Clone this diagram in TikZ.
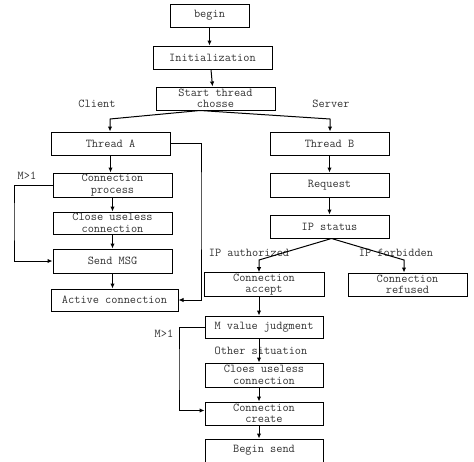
\documentclass[tikz,border=0pt]{standalone}
\usepackage{fontspec}
\usetikzlibrary{arrows.meta,calc}
\begin{document}
\begin{tikzpicture}[x=1pt,y=-1pt,
  box/.style={draw=black,line width=1pt,minimum width=119pt,minimum height=23pt,inner sep=1pt,align=center,font=\fontsize{12}{11.5}\selectfont\ttfamily,text=black!80},
  lbl/.style={font=\fontsize{12}{12}\selectfont\ttfamily,text=black!80,inner sep=0pt},
  arr/.style={line width=1pt,-{Latex[length=5pt,width=4.5pt]}}]
\useasboundingbox (0,0) rectangle (474,461);
% nodes
\node[box,minimum width=79pt] (begin) at (209.5,15.5) {begin};
\node[box] (init) at (212.5,57.5) {Initialization};
\node[box] (start) at (215.5,98.5) {Start thread\\chosse};
\node[box] (ta) at (110.5,143.5) {Thread A};
\node[box] (tb) at (329.5,143.5) {Thread B};
\node[box,minimum height=24pt] (cp) at (112.5,185) {Connection\\process};
\node[box,minimum height=22pt] (cu) at (112.5,223) {Close useless\\connection};
\node[box,minimum height=24pt] (send) at (112.5,261) {Send MSG};
\node[box,minimum width=127pt,minimum height=22pt] (act) at (114.5,300) {Active connection};
\node[box,minimum height=24pt] (req) at (329.5,185) {Request};
\node[box] (ip) at (329.5,226.5) {IP status};
\node[box,minimum width=120pt] (acc) at (264,284.5) {Connection\\accept};
\node[box] (ref) at (407.5,284.5) {Connection\\refused};
\node[box,minimum width=118pt,minimum height=22pt] (mv) at (264,327) {M value judgment};
\node[box,minimum width=118pt,minimum height=24pt] (cl) at (264,375) {Cloes useless\\connection};
\node[box,minimum width=118pt] (cc) at (264,413.5) {Connection\\create};
\node[box,minimum width=118pt] (bs) at (264,450.5) {Begin send};
% labels
\node[lbl] (client) at (97,104) {Client};
\node[lbl] (server) at (331,104) {Server};
\node[lbl] (m1) at (27,176) {M>1};
\node[lbl] (m2) at (164,334) {M>1};
\node[lbl] (ipa) at (249,253) {IP authorized};
\node[lbl] (ipf) at (396,253) {IP forbidden};
\node[lbl] (oth) at (261,351) {Other situation};
% coordinates
\coordinate (fl1) at (110,119);
\coordinate (fr1) at (330,119);
\coordinate (tr) at (201,200);
\coordinate (lp1) at (14,220);
\coordinate (fl2) at (259,260);
\coordinate (fr2) at (404,260);
\coordinate (lp2) at (179,370);
% connectors
\draw[arr] (begin.south) -- (begin.south |- init.north);
\draw[arr] (init.south -| 211,0) -- (init.south |- start.north);
\draw[arr] ([xshift=-15.5pt]start.south) -- (fl1) -- (fl1 |- ta.north);
\draw[arr] ([xshift=-15.5pt]start.south) -- (fr1) -- (fr1 |- tb.north);
\draw[arr] (ta.south) -- (ta.south |- cp.north);
\draw[arr] (cp.south) -- (cp.south |- cu.north);
\draw[arr] (cu.south) -- (cu.south |- send.north);
\draw[arr] (send.south) -- (send.south |- act.north);
\draw[arr] (cp.west) -| (lp1) |- (send.west);
\draw[arr] (ta.east) -| (tr) |- (act.east);
\draw[arr] (tb.south) -- (tb.south |- req.north);
\draw[arr] (req.south) -- (req.south |- ip.north);
\draw[arr] ([xshift=2pt]ip.south) -- (fl2) -- (fl2 |- acc.north);
\draw[arr] ([xshift=2pt]ip.south) -- (fr2) -- (fr2 |- ref.north);
\draw[arr] (acc.south -| fl2) -- (fl2 |- mv.north);
\draw[arr] (mv.south -| fl2) -- (fl2 |- cl.north);
\draw[arr] (cl.south -| fl2) -- (fl2 |- cc.north);
\draw[arr] (cc.south -| fl2) -- (fl2 |- bs.north);
\draw[arr] (mv.west) -| (lp2) |- ([yshift=3pt]cc.west);
\end{tikzpicture}
\end{document}
